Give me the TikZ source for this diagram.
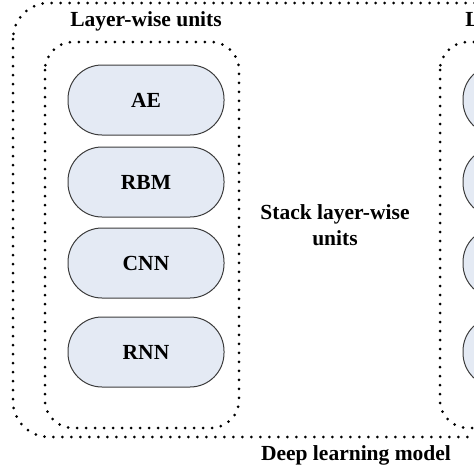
\documentclass[tikz,border=0pt]{standalone}
\usepackage{fontspec}
\setmainfont{Liberation Serif}
\definecolor{pillfill}{HTML}{E4EAF4}
\definecolor{pilldraw}{HTML}{3C3C3C}
\tikzset{
  dotbox/.style={line width=3pt, line cap=round, dash pattern=on 0pt off 9pt, draw=black},
  pill/.style={draw=pilldraw, fill=pillfill, line width=1pt, minimum width=156pt, minimum height=70pt, rounded corners=34pt, inner sep=0pt},
  lbl/.style={font=\fontsize{21.5}{26}\selectfont\bfseries, inner sep=0pt},
}
\begin{document}
\begin{tikzpicture}[x=1pt,y=-1pt]
\useasboundingbox (0,0) rectangle (474,474);
\clip (0,0) rectangle (474,474);
% outer box
\draw[dotbox, rounded corners=36pt] (13,3) rectangle (580,437);
% left column
\draw[dotbox, rounded corners=28pt] (45,42) rectangle (239,428);
\node[lbl, anchor=base] (lw1) at (146,26) {Layer-wise units};
\node[pill, lbl] (ae) at (146,100) {AE};
\node[pill, lbl] (rbm) at (146,182) {RBM};
\node[pill, lbl] (cnn) at (146,263) {CNN};
\node[pill, lbl] (rnn) at (146,352) {RNN};
% right column
\draw[dotbox, rounded corners=28pt] (440,42) rectangle (634,428);
\node[lbl, anchor=base] (lw2) at (541,26) {Layer-wise units};
\node[pill] (ae2) at (541,100) {};
\node[pill] (rbm2) at (541,182) {};
\node[pill] (cnn2) at (541,263) {};
\node[pill] (rnn2) at (541,352) {};
% middle and bottom labels
\node[lbl, align=center] (stack) at (335,225) {Stack layer-wise\\units};
\node[lbl, anchor=base] (dlm) at (356,460) {Deep learning model};
\end{tikzpicture}
\end{document}
